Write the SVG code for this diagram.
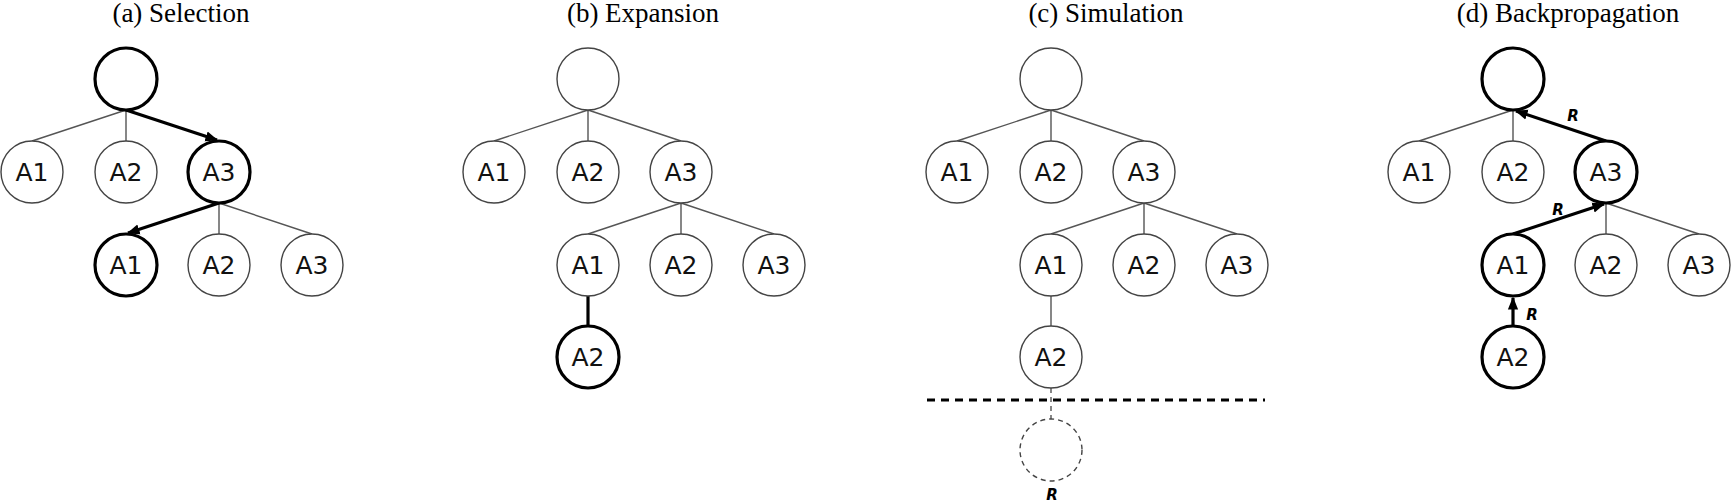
<svg xmlns="http://www.w3.org/2000/svg" width="1735" height="502" viewBox="0 0 1735 502">
<style>
.t{font-family:"Liberation Serif",serif;font-size:27px;text-anchor:middle;fill:#000}
.n circle{fill:#fff;stroke:#444;stroke-width:1.4}
.n.b circle{stroke:#000;stroke-width:3.2}
.n text{font-family:"DejaVu Sans",sans-serif;font-size:25px;text-anchor:middle;fill:#111}
.e{stroke:#555;stroke-width:1.4;fill:none}
.eb{stroke:#000;stroke-width:3.2;fill:none}
.r{font-family:"DejaVu Sans",sans-serif;font-size:15px;font-weight:bold;font-style:italic;text-anchor:middle}
</style>
<defs>
<marker id="ah" viewBox="0 0 10 10" refX="9" refY="5" markerWidth="4" markerHeight="4" orient="auto" markerUnits="strokeWidth"><path d="M0,1 L10,5 L0,9 z" fill="#000"/></marker>
</defs>
<text class="t" x="181" y="22">(a) Selection</text>
<text class="t" x="643" y="22">(b) Expansion</text>
<text class="t" x="1106" y="22">(c) Simulation</text>
<text class="t" x="1568" y="22">(d) Backpropagation</text>
<g id="connectors">
<!-- a -->
<path class="e" d="M126,110 L32,141 M126,110 L126,141 M219,203 L219,234 M219,203 L312,234"/>
<path class="eb" d="M126,110 L217,140" marker-end="url(#ah)"/>
<path class="eb" d="M219,203 L128,233" marker-end="url(#ah)"/>
<!-- b -->
<path class="e" d="M588,110 L494,141 M588,110 L588,141 M588,110 L681,141 M681,203 L588,234 M681,203 L681,234 M681,203 L774,234"/>
<path class="eb" d="M588,296 L588,326"/>
<!-- c -->
<path class="e" d="M1051,110 L957,141 M1051,110 L1051,141 M1051,110 L1144,141 M1144,203 L1051,234 M1144,203 L1144,234 M1144,203 L1237,234 M1051,296 L1051,326"/>
<path class="e" d="M1051,388 L1051,419" stroke-dasharray="5,4"/>
<path d="M927,400 L1265,400" stroke="#000" stroke-width="3" stroke-dasharray="8,6"/>
<!-- d -->
<path class="e" d="M1513,110 L1419,141 M1513,110 L1513,141 M1606,203 L1606,234 M1606,203 L1699,234"/>
<path class="eb" d="M1606,141 L1516,111" marker-end="url(#ah)"/>
<path class="eb" d="M1513,234 L1604,204" marker-end="url(#ah)"/>
<path class="eb" d="M1513,326 L1513,298" marker-end="url(#ah)"/>
</g>
<g id="labels">
<text class="r" x="1573" y="121">R</text>
<text class="r" x="1558" y="215">R</text>
<text class="r" x="1532" y="320">R</text>
<text class="r" x="1052" y="500">R</text>
</g>
<g id="a-root" class="n b"><circle cx="126" cy="79" r="31"/></g>
<g id="a-A1" class="n"><circle cx="32" cy="172" r="31"/><text x="32" y="181">A1</text></g>
<g id="a-A2" class="n"><circle cx="126" cy="172" r="31"/><text x="126" y="181">A2</text></g>
<g id="a-A3" class="n b"><circle cx="219" cy="172" r="31"/><text x="219" y="181">A3</text></g>
<g id="a-A3A1" class="n b"><circle cx="126" cy="265" r="31"/><text x="126" y="274">A1</text></g>
<g id="a-A3A2" class="n"><circle cx="219" cy="265" r="31"/><text x="219" y="274">A2</text></g>
<g id="a-A3A3" class="n"><circle cx="312" cy="265" r="31"/><text x="312" y="274">A3</text></g>

<g id="b-root" class="n"><circle cx="588" cy="79" r="31"/></g>
<g id="b-A1" class="n"><circle cx="494" cy="172" r="31"/><text x="494" y="181">A1</text></g>
<g id="b-A2" class="n"><circle cx="588" cy="172" r="31"/><text x="588" y="181">A2</text></g>
<g id="b-A3" class="n"><circle cx="681" cy="172" r="31"/><text x="681" y="181">A3</text></g>
<g id="b-A3A1" class="n"><circle cx="588" cy="265" r="31"/><text x="588" y="274">A1</text></g>
<g id="b-A3A2" class="n"><circle cx="681" cy="265" r="31"/><text x="681" y="274">A2</text></g>
<g id="b-A3A3" class="n"><circle cx="774" cy="265" r="31"/><text x="774" y="274">A3</text></g>
<g id="b-new" class="n b"><circle cx="588" cy="357" r="31"/><text x="588" y="366">A2</text></g>

<g id="c-root" class="n"><circle cx="1051" cy="79" r="31"/></g>
<g id="c-A1" class="n"><circle cx="957" cy="172" r="31"/><text x="957" y="181">A1</text></g>
<g id="c-A2" class="n"><circle cx="1051" cy="172" r="31"/><text x="1051" y="181">A2</text></g>
<g id="c-A3" class="n"><circle cx="1144" cy="172" r="31"/><text x="1144" y="181">A3</text></g>
<g id="c-A3A1" class="n"><circle cx="1051" cy="265" r="31"/><text x="1051" y="274">A1</text></g>
<g id="c-A3A2" class="n"><circle cx="1144" cy="265" r="31"/><text x="1144" y="274">A2</text></g>
<g id="c-A3A3" class="n"><circle cx="1237" cy="265" r="31"/><text x="1237" y="274">A3</text></g>
<g id="c-new" class="n"><circle cx="1051" cy="357" r="31"/><text x="1051" y="366">A2</text></g>
<g id="c-sim"><circle cx="1051" cy="450" r="31" fill="none" stroke="#444" stroke-width="1.4" stroke-dasharray="5,4"/></g>

<g id="d-root" class="n b"><circle cx="1513" cy="79" r="31"/></g>
<g id="d-A1" class="n"><circle cx="1419" cy="172" r="31"/><text x="1419" y="181">A1</text></g>
<g id="d-A2" class="n"><circle cx="1513" cy="172" r="31"/><text x="1513" y="181">A2</text></g>
<g id="d-A3" class="n b"><circle cx="1606" cy="172" r="31"/><text x="1606" y="181">A3</text></g>
<g id="d-A3A1" class="n b"><circle cx="1513" cy="265" r="31"/><text x="1513" y="274">A1</text></g>
<g id="d-A3A2" class="n"><circle cx="1606" cy="265" r="31"/><text x="1606" y="274">A2</text></g>
<g id="d-A3A3" class="n"><circle cx="1699" cy="265" r="31"/><text x="1699" y="274">A3</text></g>
<g id="d-new" class="n b"><circle cx="1513" cy="357" r="31"/><text x="1513" y="366">A2</text></g>
</svg>
